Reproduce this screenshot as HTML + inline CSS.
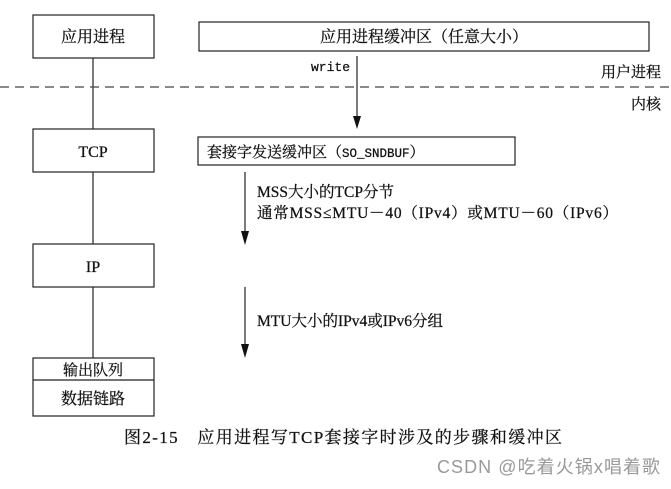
<!DOCTYPE html>
<html><head><meta charset="utf-8"><style>
body{margin:0;background:#fff;}
svg text{font-family:"Liberation Serif","Noto Serif CJK SC",serif;fill:#111;stroke:#111;stroke-width:0.25;}
.m{font-family:"Liberation Mono","Noto Serif CJK SC",monospace !important;}
</style></head><body>
<svg width="671" height="484" viewBox="0 0 671 484" xmlns="http://www.w3.org/2000/svg">
<g fill="none" stroke="#222" stroke-width="1.2">
<rect x="33" y="15" width="121" height="43"/>
<rect x="199" y="22" width="450" height="29"/>
<line x1="93" y1="58" x2="93" y2="129"/>
<rect x="33" y="129" width="121" height="43"/>
<rect x="198" y="137" width="317" height="28"/>
<line x1="93" y1="172" x2="93" y2="244"/>
<rect x="33" y="244" width="121" height="43"/>
<line x1="93" y1="287" x2="93" y2="358"/>
<rect x="33" y="358" width="121" height="58"/>
<line x1="33" y1="380" x2="154" y2="380"/>
<line x1="0" y1="87" x2="671" y2="87" stroke="#444" stroke-dasharray="9,6"/>
<line x1="357" y1="56" x2="357" y2="118"/>
<line x1="245" y1="172" x2="245" y2="233"/>
<line x1="245" y1="287" x2="245" y2="346"/>
</g>
<g fill="#111">
<polygon points="353,116 361,116 357,129"/>
<polygon points="241,231 249,231 245,245"/>
<polygon points="241,344 249,344 245,358"/>
</g>
<g font-size="16" text-anchor="middle">
<text x="93" y="42">应用进程</text>
<text x="424" y="42">应用进程缓冲区（任意大小）</text>
<text x="93" y="157">TCP</text>
<text x="93" y="272">IP</text>
<text x="93" y="375" font-size="15">输出队列</text>
<text x="93" y="404">数据链路</text>
</g>
<text x="207" y="157" font-size="15">套接字发送缓冲区（<tspan class="m" font-size="12.5">SO_SNDBUF</tspan>）</text>
<text x="350" y="71" font-size="13" class="m" text-anchor="end">write</text>
<text x="661" y="77" font-size="15" text-anchor="end">用户进程</text>
<text x="661" y="109" font-size="15" text-anchor="end">内核</text>
<text x="257" y="197" font-size="15.5">MSS大小的TCP分节</text>
<text x="257" y="218" font-size="15.5" textLength="361">通常MSS≤MTU－40（IPv4）或MTU－60（IPv6）</text>
<text x="257" y="326" font-size="15.5">MTU大小的IPv4或IPv6分组</text>
<text x="124" y="443" font-size="17" textLength="438">图2-15　应用进程写TCP套接字时涉及的步骤和缓冲区</text>
<text x="437" y="473" font-size="18" textLength="223" style="font-family:'Liberation Sans','Noto Sans CJK SC',sans-serif;fill:#999;stroke:none">CSDN @吃着火锅x唱着歌</text>
</svg>
</body></html>
